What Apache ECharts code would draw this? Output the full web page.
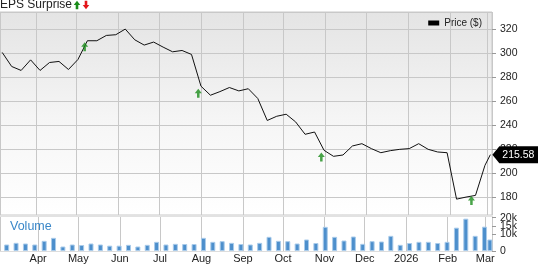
<!DOCTYPE html>
<html><head><meta charset="utf-8">
<script src="https://cdn.jsdelivr.net/npm/echarts@6/dist/echarts.min.js"></script>
<style>html,body{margin:0;padding:0;background:#fff}#c{width:538px;height:264px}</style>
</head><body><div id="c"></div>
<script>
// weekly dates (last one = latest trading day)
const dates = ['2025-03-07','2025-03-14','2025-03-21','2025-03-28','2025-04-04','2025-04-11','2025-04-18','2025-04-25',
 '2025-05-02','2025-05-09','2025-05-16','2025-05-23','2025-05-30','2025-06-06','2025-06-13','2025-06-20','2025-06-27',
 '2025-07-04','2025-07-11','2025-07-18','2025-07-25','2025-08-01','2025-08-08','2025-08-15','2025-08-22','2025-08-29',
 '2025-09-05','2025-09-12','2025-09-19','2025-09-26','2025-10-03','2025-10-10','2025-10-17','2025-10-24','2025-10-31',
 '2025-11-07','2025-11-14','2025-11-21','2025-11-28','2025-12-05','2025-12-12','2025-12-19','2025-12-26',
 '2026-01-02','2026-01-09','2026-01-16','2026-01-23','2026-01-30','2026-02-06','2026-02-13','2026-02-20','2026-02-27','2026-03-03'];
const prices = [300.6,288.9,285.6,294.4,285.6,292.2,293.1,286.4,
 294.7,310.3,310.3,314.7,315.3,320.0,311.1,306.7,309.2,
 305.0,301.1,302.2,298.9,272.5,265.0,268.0,271.4,268.6,
 270.4,262.3,244.0,247.5,249.2,242.8,232.5,234.4,219.2,
 214.2,215.3,222.8,224.7,220.6,217.2,218.9,220.0,
 220.6,224.7,220.0,217.8,217.2,178.6,180.3,181.7,206.7,215.58];
const volumes = [3900,4900,4500,3900,6100,7900,2700,3900,
 3600,4500,3900,3200,3200,3700,2700,3700,5500,
 3900,4300,4200,4200,7900,5500,5900,4900,4200,
 3900,4900,8500,6100,5900,4500,6900,4800,14500,
 8500,6300,8700,4300,5900,5700,9100,3700,
 4800,5500,5500,4800,5500,14000,19400,9100,14600,6900];
const epsDates = ['2025-05-07','2025-07-30','2025-10-29','2026-02-17'];
const epsLevels = [305.3,266.7,213.6,177.5];
const monthLabels = ['Jan','Feb','Mar','Apr','May','Jun','Jul','Aug','Sep','Oct','Nov','Dec'];
const priceTicks = [180,200,220,240,260,280,300,320];
const volumeTicks = [0,5000,10000,15000,20000];

function ts(s){const p=s.split('-').map(Number);return new Date(p[0],p[1]-1,p[2]).getTime();}
const DAY = 864e5;
const xMin = new Date(2025,2,5,9).getTime();
const xMax = new Date(2026,2,4,5).getTime();
const FONT = 'Liberation Sans, Arial, Helvetica, sans-serif';
const last = prices.length-1;

const chart = echarts.init(document.getElementById('c'), null, {renderer:'canvas'});
const timeAxisBase = {type:'time', min:xMin, max:xMax, splitNumber:12, minInterval:27*DAY};
chart.setOption({
  animation:false,
  textStyle:{fontFamily:FONT},
  title:[
    {text:'EPS Surprise', left:0, top:-1, padding:0, textStyle:{fontSize:12, fontWeight:'normal', color:'#222', fontFamily:FONT}},
    {text:'Volume', left:10, top:220, padding:0, textStyle:{fontSize:12.5, fontWeight:'normal', color:'#3a87c8', fontFamily:FONT}}
  ],
  legend:{data:['Price ($)'], right:56, top:18, padding:0, icon:'rect', itemWidth:11, itemHeight:5, selectedMode:false,
    textStyle:{fontSize:10, color:'#222', fontFamily:FONT}},
  graphic:[
    {type:'polygon', shape:{points:[[77,0.7],[80.3,5],[78.3,5],[78.3,9.3],[75.7,9.3],[75.7,5],[73.7,5]]}, style:{fill:'#1a8c1a'}},
    {type:'polygon', shape:{points:[[84.7,0.7],[87.3,0.7],[87.3,5],[89.3,5],[86,9.3],[82.7,5],[84.7,5]]}, style:{fill:'#e3151a'}}
  ],
  grid:[
    {left:0, right:46, top:12, height:203, show:true, borderColor:'#c8c8c8', borderWidth:1,
     backgroundColor:{type:'linear',x:0,y:0,x2:0,y2:1,colorStops:[{offset:0,color:'#e4e4e4'},{offset:0.55,color:'#f6f6f6'},{offset:1,color:'#ffffff'}]}},
    {left:0, right:46, top:216, height:35.3, show:false}
  ],
  xAxis:[
    Object.assign({}, timeAxisBase, {gridIndex:0, axisLabel:{show:false}, axisTick:{show:false}, axisLine:{show:false},
      splitLine:{show:true, lineStyle:{color:'#c8c8c8', width:1}}}),
    Object.assign({}, timeAxisBase, {gridIndex:1, axisTick:{show:false}, axisLine:{show:true, lineStyle:{color:'#dddddd'}},
      splitLine:{show:true, lineStyle:{color:'#c8c8c8', width:1}},
      axisLabel:{margin:2, fontSize:11, color:'#222', fontFamily:FONT, showMinLabel:false, showMaxLabel:false, hideOverlap:false,
        formatter:function(v){const d=new Date(v); if(d.getDate()!==1||d.getHours()!==0) return ''; return d.getMonth()===0? String(d.getFullYear()) : monthLabels[d.getMonth()];}}}),
    Object.assign({}, timeAxisBase, {gridIndex:1, position:'top', axisTick:{show:false}, axisLabel:{show:false}, splitLine:{show:false},
      axisLine:{show:true, lineStyle:{color:'#e2e2e2', width:2}}})
  ],
  yAxis:[
    {type:'value', gridIndex:0, position:'right', min:165.4, max:334.2, splitNumber:8, scale:true,
     axisLine:{show:false}, axisTick:{show:true, length:4, lineStyle:{color:'#999'}},
     splitLine:{show:true, lineStyle:{color:'#c8c8c8', width:1}},
     axisLabel:{margin:8, fontSize:10.5, color:'#222', fontFamily:FONT, showMinLabel:false, showMaxLabel:false, hideOverlap:false,
       formatter:function(v){return priceTicks.indexOf(Math.round(v*1000)/1000)>=0? String(v):'';}}},
    {type:'value', gridIndex:1, position:'right', min:0, max:21000, interval:5000,
     axisLine:{show:false}, axisTick:{show:true, length:4, lineStyle:{color:'#999'}}, splitLine:{show:false},
     axisLabel:{margin:8, fontSize:10.5, color:'#222', fontFamily:FONT, showMinLabel:true, showMaxLabel:false, hideOverlap:false,
       formatter:function(v){if(volumeTicks.indexOf(v)<0) return ''; return v===0?'0':(v/1000)+'k';}}}
  ],
  series:[
    {name:'Price ($)', type:'line', xAxisIndex:0, yAxisIndex:0, symbol:'none', z:3,
     data:dates.map((d,i)=>[ts(d), prices[i]]),
     lineStyle:{color:'#111', width:1}, itemStyle:{color:'#000'},
     markPoint:{symbol:'path://M0,8.5 L7,0 L46,0 L46,17 L7,17 Z', symbolSize:[46,17], symbolKeepAspect:false, symbolOffset:[25,0],
       itemStyle:{color:'#000'},
       label:{show:true, position:'inside', offset:[3,0], color:'#fff', fontSize:10.5, fontFamily:FONT, formatter:function(p){return p.value.toFixed(2);}},
       data:[{coord:[ts(dates[last]), prices[last]], value:prices[last]}]}},
    {name:'EPS', type:'scatter', xAxisIndex:0, yAxisIndex:0, z:4,
     symbol:'path://M3.5,0 L7,4 L4.75,4 L4.75,8 L2.25,8 L2.25,4 L0,4 Z', symbolSize:[7,9], symbolKeepAspect:false,
     itemStyle:{color:'#1a8c1a'},
     data:epsDates.map((d,i)=>[ts(d), epsLevels[i]])},
    {name:'Volume', type:'bar', xAxisIndex:1, yAxisIndex:1, barWidth:5,
     itemStyle:{color:'#4d8fcc', borderColor:'#a9cbea', borderWidth:1},
     data:dates.map((d,i)=>[ts(d)+1.5*DAY, volumes[i]])}
  ]
});
</script></body></html>
